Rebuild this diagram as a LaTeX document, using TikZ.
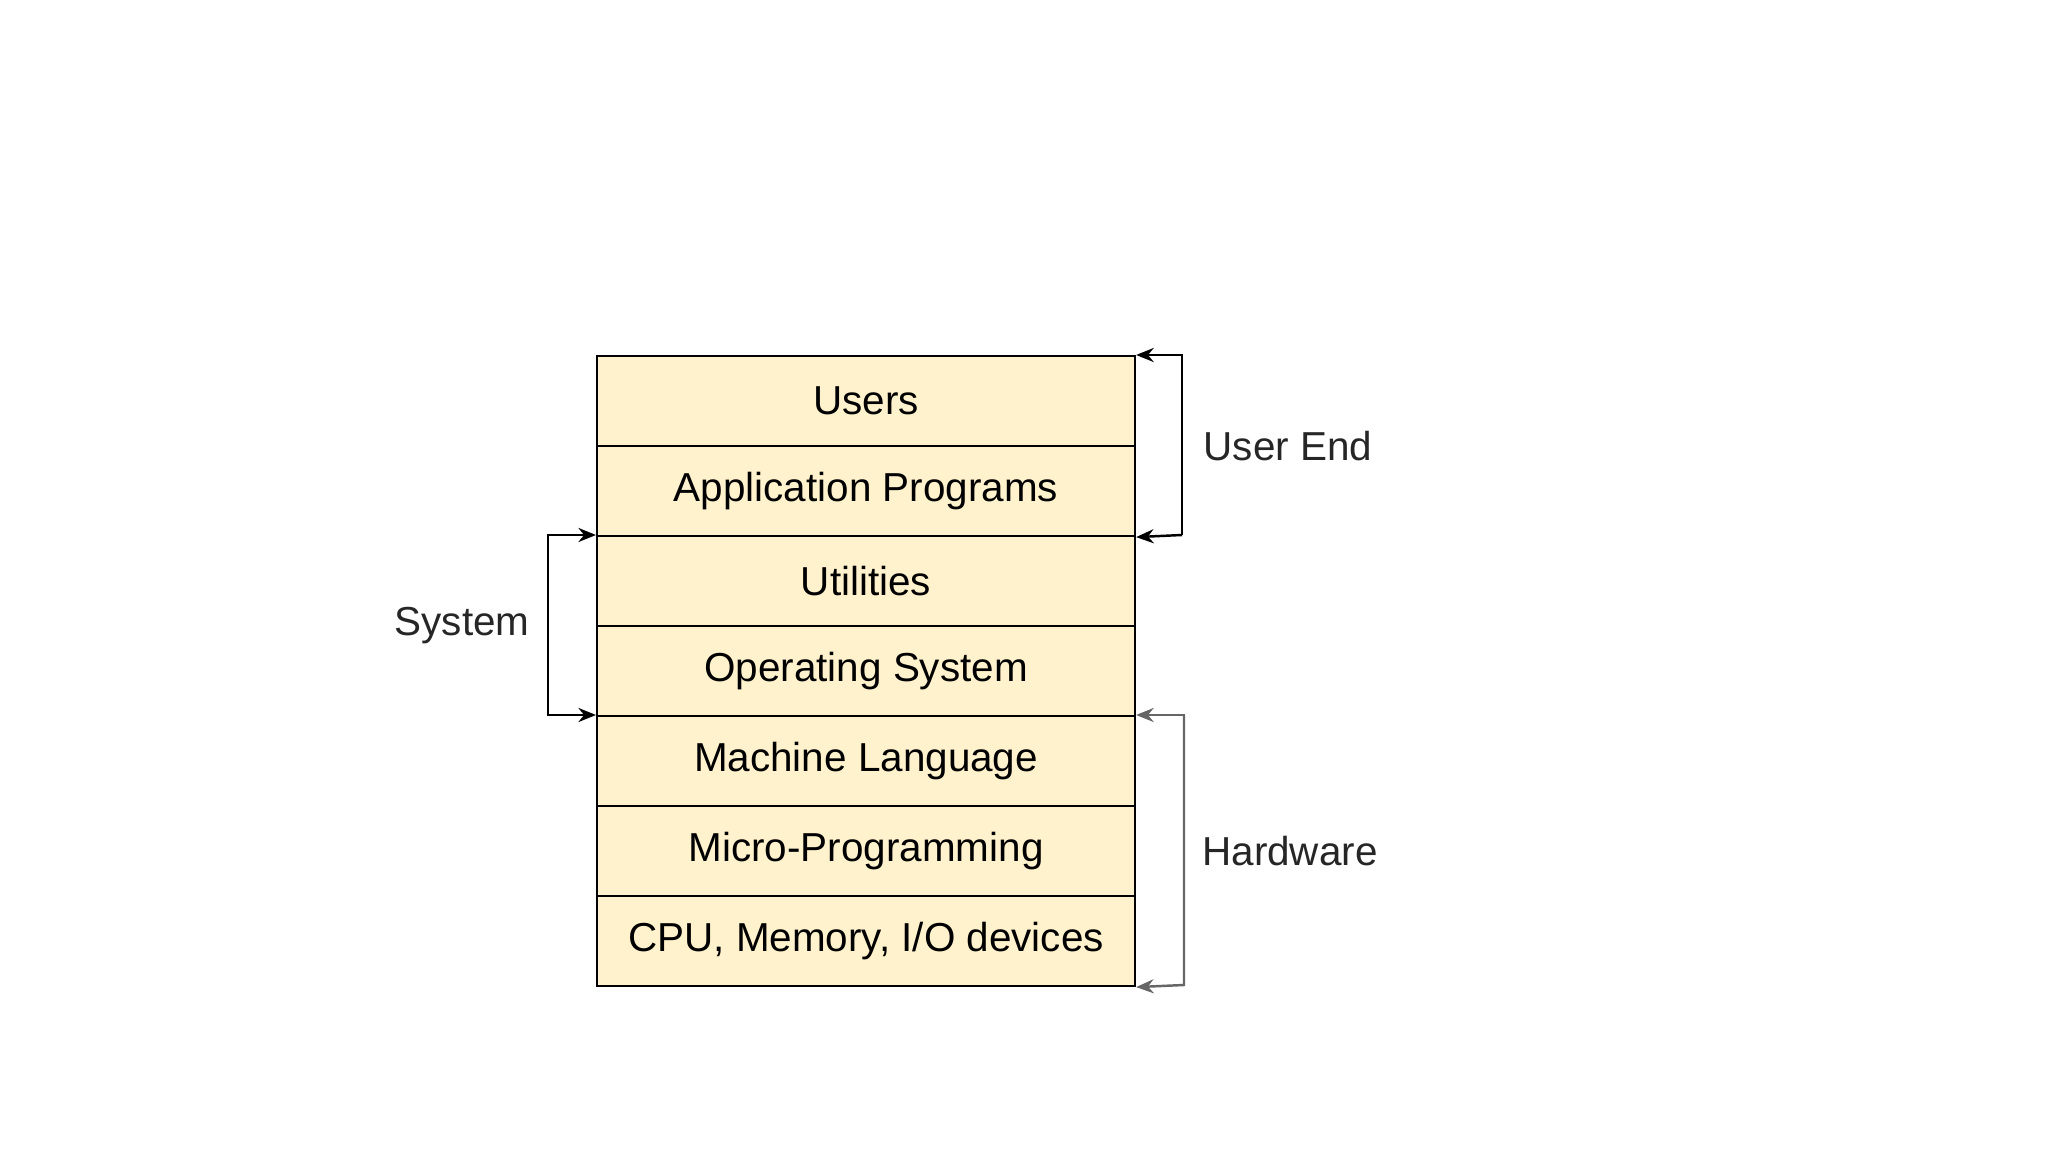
\documentclass[tikz,border=0pt]{standalone}
\usepackage{fontspec}
\setmainfont{Liberation Sans}
\begin{document}
\begin{tikzpicture}[x=0.01cm,y=-0.01cm,
  layer/.style={draw=black,fill=yellow!25!orange!20!white,fill=lay,minimum width=538*0.01cm,minimum height=90*0.01cm,inner sep=0,anchor=north west,font=\fontsize{11.5}{13}\selectfont,line width=0.6pt},
  br/.style={line width=0.7pt,-{Stealth[length=5pt,width=4pt]}},
  lab/.style={font=\fontsize{11.5}{13}\selectfont,text=black!85}]
\usetikzlibrary{arrows.meta}
\definecolor{lay}{HTML}{FFF2CC}
\useasboundingbox (0,0) rectangle (2048,1152);
\node[layer] (l1) at (596,355) {Users};
\node[layer] (l2) at (596,445) {Application Programs};
\node[layer] (l3) at (596,535) {Utilities};
\node[layer] (l4) at (596,625) {Operating System};
\node[layer] (l5) at (596,715) {Machine Language};
\node[layer] (l6) at (596,805) {Micro-Programming};
\node[layer] (l7) at (596,895) {CPU, Memory, I/O devices};
\coordinate (ua) at (1182,355); \coordinate (ub) at (1182,535);
\draw[br] (ub) -- (l2.south east);
\draw[br] (ub) -- (ua) -- (l1.north east);
\node[lab] (ue) at (1288,446) {User End};
\coordinate (sa) at (548,535); \coordinate (sb) at (548,715);
\draw[br] (sb) -- (sa) -- (l3.north west);
\draw[br] (sa) -- (sb) -- (l5.north west);
\node[lab] (sy) at (462,626) {System};
\coordinate (ha) at (1184,715); \coordinate (hb) at (1184,985);
\draw[br,draw=black!60] (hb) -- (ha) -- (l5.north east);
\draw[br,draw=black!60] (ha) -- (hb) -- (l7.south east);
\node[lab] (hw) at (1290,851) {Hardware};
\end{tikzpicture}
\end{document}
